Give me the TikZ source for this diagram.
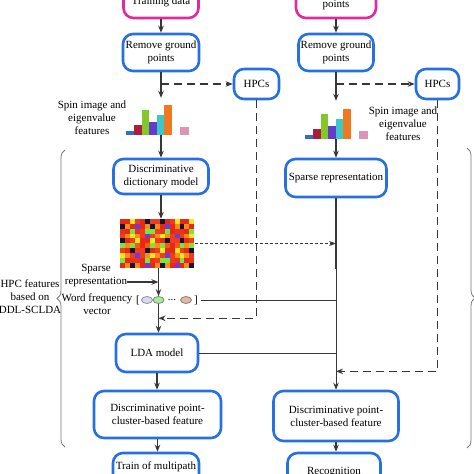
\documentclass[tikz,border=0pt]{standalone}
\usepackage{fontspec}
\setmainfont{Liberation Serif}
\definecolor{boxblue}{RGB}{38, 112, 228}
\definecolor{boxpink}{RGB}{226, 42, 160}
\definecolor{linegray}{RGB}{55, 55, 55}
\definecolor{bracegray}{RGB}{120, 120, 120}
\definecolor{barblue}{RGB}{50, 110, 210}
\definecolor{barred}{RGB}{170, 30, 60}
\definecolor{bargreen}{RGB}{130, 200, 40}
\definecolor{barpurple}{RGB}{100, 60, 200}
\definecolor{barteal}{RGB}{60, 200, 200}
\definecolor{barorange}{RGB}{240, 120, 30}
\definecolor{barpink}{RGB}{220, 150, 180}
\definecolor{ovalblue}{RGB}{215, 218, 240}
\definecolor{ovalgreen}{RGB}{170, 230, 160}
\definecolor{ovalbrown}{RGB}{225, 185, 165}
\definecolor{gc0}{RGB}{232, 40, 20}
\definecolor{gc1}{RGB}{245, 90, 20}
\definecolor{gc2}{RGB}{250, 230, 30}
\definecolor{gc3}{RGB}{220, 30, 30}
\definecolor{gc4}{RGB}{120, 230, 60}
\definecolor{gc5}{RGB}{110, 60, 220}
\definecolor{gc6}{RGB}{240, 60, 30}
\definecolor{gc7}{RGB}{170, 220, 235}
\definecolor{gc8}{RGB}{20, 20, 50}
\definecolor{gc9}{RGB}{250, 140, 30}
\definecolor{gc10}{RGB}{235, 50, 25}
\definecolor{gc11}{RGB}{230, 40, 150}
\usetikzlibrary{arrows.meta, positioning, calc, shapes.geometric, decorations.pathreplacing}

\tikzset{
  flowbox/.style={draw=boxblue, line width=2.6pt, rounded corners=10pt, align=center, inner sep=2pt},
  startbox/.style={flowbox, draw=boxpink},
  flowarrow/.style={draw=linegray, line width=1.2pt, -{Stealth[length=7pt, width=5.5pt]}},
  hpcarrow/.style={draw=linegray, line width=1.3pt, dash pattern=on 8pt off 5pt, -{Stealth[length=7pt, width=5.5pt]}},
  griddash/.style={draw=linegray, line width=0.6pt, dash pattern=on 3pt off 2pt, -{Stealth[length=7pt, width=5pt]}},
  fineline/.style={draw=linegray, line width=0.7pt},
  sidebrace/.style={draw=bracegray, line width=0.8pt, decorate, decoration={brace, amplitude=8pt}},
  wordoval/.style={ellipse, fill=#1, draw=#1!60!black, minimum width=11pt, minimum height=7pt, inner sep=0pt, line width=0.7pt},
  plainlabel/.style={align=center, inner sep=0pt}
}

\begin{document}
\begin{tikzpicture}[x=1pt, y=-1pt, font=\fontsize{11}{13}\selectfont]
  \useasboundingbox (0,0) rectangle (474,474);

  % top row
  \node[startbox, minimum width=75pt, minimum height=32pt] (train) at (161,2) {Training data};
  \node[startbox, minimum width=80pt, minimum height=32pt] (test) at (336,2) {\mbox{}\\points};
  \node[flowbox, minimum width=76pt, minimum height=37pt] (remove1) at (161,52.5) {Remove ground\\points};
  \node[flowbox, minimum width=75pt, minimum height=37pt] (remove2) at (336,52.5) {Remove ground\\points};
  \node[flowbox, minimum width=45pt, minimum height=30pt] (hpc1) at (256.5,84) {HPCs};
  \node[flowbox, minimum width=43pt, minimum height=30pt] (hpc2) at (437.5,84) {HPCs};

  % histograms
  \node[minimum width=63pt, minimum height=37pt, inner sep=0pt] (hist1) at (157.5,116.5) {};
  \node[minimum width=64pt, minimum height=38pt, inner sep=0pt] (hist2) at (337,120) {};
  \foreach \hist in {hist1, hist2} {
    \begin{scope}[shift={(\hist.south west)}]
      \foreach \xa/\xb/\hb/\col in {0/8/4/barblue, 8/16/10/barred, 16/23/25/bargreen, 23/31/13/barpurple, 31/38/20/barteal, 38/46/30/barorange, 54/63/8/barpink}
        \fill[\col] (\xa,0) rectangle (\xb,-\hb);
    \end{scope}
  }
  \node[plainlabel] (spin1) at (92,118) {Spin image and\\eigenvalue\\features};
  \node[plainlabel] (spin2) at (403,124) {Spin image and\\eigenvalue\\features};

  % middle
  \node[flowbox, minimum width=95pt, minimum height=35pt] (dict) at (161,176.5) {Discriminative\\dictionary model};
  \node[flowbox, minimum width=101pt, minimum height=38pt] (sparse) at (336,178) {Sparse representation};
  \node[minimum width=74pt, minimum height=49pt, inner sep=0pt] (grid) at (157.5,243.5) {};
  \begin{scope}[shift={(grid.north west)}]
    \foreach \r in {0,...,9}
      \foreach \c in {0,...,14} {
        \pgfmathtruncatemacro{\k}{mod(\r*17+\c*29+\r*\c*13+\r*\r*3+\c*\c*7,12)}
        \fill[gc\k] ({\c*74/15},{\r*4.9}) rectangle ++({74/15},4.9);
      }
  \end{scope}

  % word frequency vector
  \node (brL) at (138,300) {[};
  \node[wordoval=ovalblue] (ovA) at (147,300) {};
  \node[wordoval=ovalgreen] (ovB) at (158.5,300) {};
  \node (dots) at (172,300) {...};
  \node[wordoval=ovalbrown] (ovC) at (186,300) {};
  \node (brR) at (196,300) {]};

  \node[plainlabel] (spl) at (96,275.5) {Sparse\\representation};
  \node[plainlabel] (wfv) at (97,304) {Word frequency\\vector};
  \node[plainlabel] (hpcf) at (30,297) {HPC features\\based on\\DDL-SCLDA};

  % bottom
  \node[flowbox, minimum width=82pt, minimum height=38pt] (lda) at (157,353) {LDA model};
  \node[flowbox, minimum width=127pt, minimum height=47pt] (ldisc) at (157.5,414.5) {Discriminative point-\\cluster-based feature};
  \node[flowbox, minimum width=86pt, minimum height=38pt] (trainm) at (156,472) {Train of multipath\\\mbox{}};
  \node[flowbox, minimum width=125pt, minimum height=50pt] (rdisc) at (336,416) {Discriminative point-\\cluster-based feature};
  \node[flowbox, minimum width=93pt, minimum height=38pt] (recog) at (334,472) {Recognition};

  % connectors
  \draw[flowarrow] (train) -- (remove1);
  \draw[flowarrow] (test) -- (remove2);
  \draw[flowarrow] (remove1.south) -- (remove1.south |- hist1.north);
  \draw[flowarrow] (remove2.south) -- (remove2.south |- hist2.north);
  \draw[hpcarrow] (remove1.south |- hpc1.west) -- (hpc1.west);
  \draw[hpcarrow] (remove2.south |- hpc2.west) -- (hpc2.west);
  \draw[flowarrow] (remove1.south |- hist1.south) -- (dict.north);
  \draw[flowarrow] (remove2.south |- hist2.south) -- (sparse.north);
  \draw[flowarrow] (dict.south) -- (dict.south |- grid.north);
  \draw[flowarrow] (ovB |- grid.south) -- (ovB.north);
  \coordinate (splend) at ([yshift=-6.5pt]spl.east);
  \draw[flowarrow] (splend) -- (splend -| ovB);
  \draw[flowarrow] (ovB.south) -- (ovB.south |- lda.north);
  \draw[griddash] (grid.east) -- (grid.east -| sparse.south);
  \draw[fineline] (brR.east) -- (brR.east -| sparse.south);
  \draw[fineline] (lda.east) -- (lda.east -| sparse.south);
  \path (sparse.south) ++(0,71) coordinate (thickend);
  \draw[draw=linegray, line width=2pt] (sparse.south) -- (thickend);
  \draw[flowarrow, line width=0.9pt] (thickend) -- (thickend |- rdisc.north);
  \draw[hpcarrow] (hpc1.south) |- ($(ovB.south)!0.5!(ovB.south |- lda.north)$);
  \draw[hpcarrow] (hpc2.south) |- ($(lda.east -| sparse.south)!0.5!(sparse.south |- rdisc.north)$);
  \draw[flowarrow] (lda) -- (lda |- ldisc.north);
  \draw[flowarrow] (ldisc.south) -- (ldisc.south |- trainm.north);
  \draw[flowarrow] (rdisc.south) -- (rdisc.south |- recog.north);

  % braces
  \draw[sidebrace] (65,447) -- (65,150);
  \draw[sidebrace] (467,148) -- (467,448);
\end{tikzpicture}
\end{document}
